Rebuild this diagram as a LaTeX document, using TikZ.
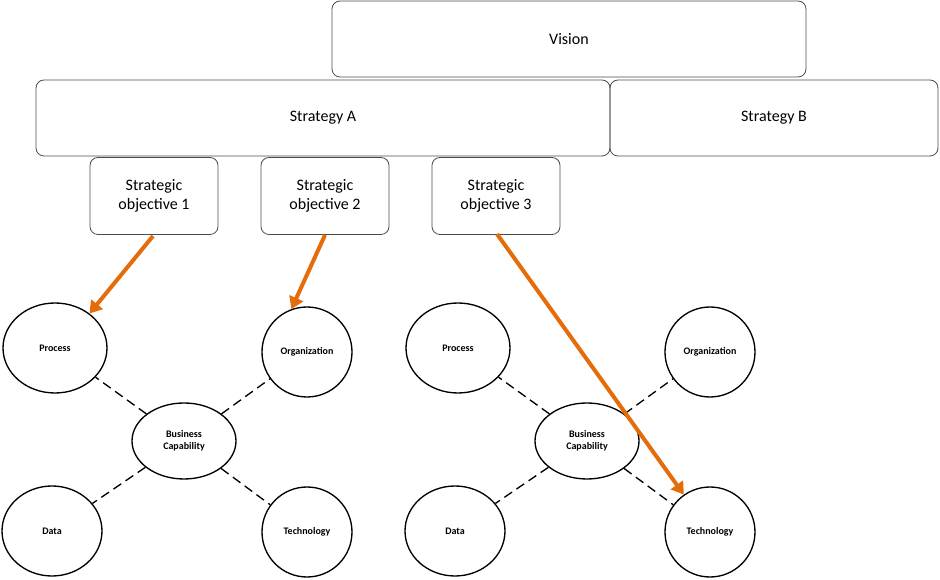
\documentclass[tikz,border=0pt]{standalone}
\usepackage{fontspec}
\setmainfont{Carlito}
\usetikzlibrary{arrows.meta,shapes.geometric}
\begin{document}
\begin{tikzpicture}[x=0.75pt,y=-0.75pt,
 box/.style={draw=black!70,rounded corners=6pt,line width=0.6pt,font=\fontsize{12}{14}\selectfont,align=center,inner sep=0},
 ell/.style={draw=black,ellipse,line width=1pt,font=\bfseries\fontsize{7.5}{9}\selectfont,align=center,inner sep=0},
 dsh/.style={dashed,dash pattern=on 7pt off 4pt,line width=1pt},
 arr/.style={draw={rgb,255:red,228;green,108;blue,10},line width=3pt,-{Triangle[length=9pt,width=11pt]}}]
\useasboundingbox (0,0) rectangle (940,580);
\node[box,minimum width=474*0.75pt,minimum height=76*0.75pt] (v) at (569,39) {Vision};
\node[box,minimum width=574*0.75pt,minimum height=76*0.75pt] (sa) at (323,118) {Strategy A};
\node[box,minimum width=328*0.75pt,minimum height=76*0.75pt] (sb) at (774,118) {Strategy B};
\foreach \n/\x/\k in {o1/154/1,o2/325/2,o3/496/3}
 \node[box,minimum width=128*0.75pt,minimum height=77*0.75pt] (\n) at (\x,196) {Strategic\\objective \k};
\foreach \p/\dx in {l/0,r/403}{
 \node[ell,minimum width=104*0.75pt,minimum height=90*0.75pt] (\p p) at (55+\dx,348) {Process};
 \node[ell,minimum width=90*0.75pt,minimum height=90*0.75pt] (\p o) at (307+\dx,352) {Organization};
 \node[ell,minimum width=104*0.75pt,minimum height=76*0.75pt] (\p b) at (184+\dx,441) {Business\\Capability};
 \node[ell,minimum width=100*0.75pt,minimum height=90*0.75pt] (\p d) at (52+\dx,531) {Data};
 \node[ell,minimum width=90*0.75pt,minimum height=90*0.75pt] (\p t) at (307+\dx,532) {Technology};
 \foreach \q in {p,o,d,t} \draw[dsh] (\p b) -- (\p\q);
}
\coordinate (a1) at (153,236); \coordinate (a2) at (325,235); \coordinate (a3) at (497,234);
\draw[arr] (a1) -- (lp.45);
\draw[arr] (a2) -- (lo.110);
\draw[arr] (a3) -- (rt.125);
\end{tikzpicture}
\end{document}
